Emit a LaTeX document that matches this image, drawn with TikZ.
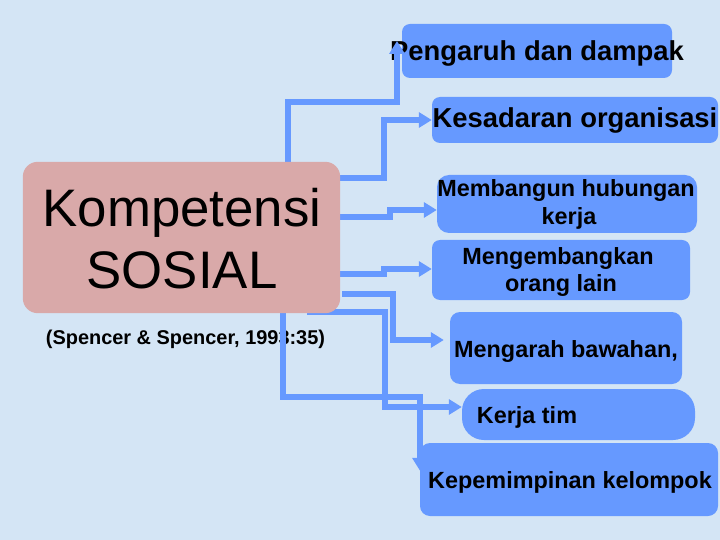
\documentclass[tikz,border=0pt]{standalone}
\usepackage{fontspec}
\setmainfont{Liberation Sans}
\usetikzlibrary{arrows.meta}
\definecolor{bg}{HTML}{D4E5F5}
\definecolor{bx}{HTML}{6699FF}
\definecolor{pk}{HTML}{D9A9A9}
\begin{document}
\begin{tikzpicture}[x=1bp,y=-1bp,
  box/.style={fill=bx, inner sep=0pt},
  conn/.style={draw=bx, line width=6.5bp},
  arr/.style={conn, -{Triangle[width=15bp,length=13bp]}},
  lbl/.style={font=\fontsize{23.5}{28}\bfseries\selectfont, text=black, inner sep=0pt, anchor=base},
  big/.style={font=\fontsize{27.5}{32}\bfseries\selectfont, text=black, inner sep=0pt, anchor=base},
  huge/.style={font=\fontsize{53}{61}\selectfont, text=black, inner sep=0pt, anchor=base},
]
\fill[bg] (0,0) rectangle (720,540);
\useasboundingbox (0,0) rectangle (720,540);

% blue boxes
\node[box, rounded corners=8bp, minimum width=270bp, minimum height=54bp] (p1) at (537,51) {};
\node[box, rounded corners=8bp, minimum width=286bp, minimum height=46bp] (p2) at (575,120) {};
\node[box, rounded corners=12bp, minimum width=260bp, minimum height=58bp] (p3) at (567,204) {};
\node[box, rounded corners=8bp, minimum width=258bp, minimum height=60bp] (p4) at (561,270) {};
\node[box, rounded corners=10bp, minimum width=232bp, minimum height=72bp] (p5) at (566,348) {};
\node[box, rounded corners=22bp, minimum width=233bp, minimum height=51bp] (p6) at (578.5,414.5) {};

\node[big] (t1) at (537,61) {Pengaruh dan dampak};
\node[big] (t2) at (575,128) {Kesadaran organisasi};
\node[lbl] (t3a) at (566,197) {Membangun hubungan};
\node[lbl] (t3b) at (569,225) {kerja};
\node[lbl] (t4a) at (558,265) {Mengembangkan};
\node[lbl] (t4b) at (561,291) {orang lain};
\node[lbl] (t5) at (566,357) {Mengarah bawahan,};
\node[lbl] (t6) at (527,423) {Kerja tim};

\node[font=\fontsize{20}{24}\bfseries\selectfont, inner sep=0pt, anchor=base] (cite) at (185.5,344) {(Spencer \& Spencer, 1993:35)};

% pink box (named early for connectors, drawn later)
\path (181.5,237.5) node[minimum width=317bp, minimum height=151bp, inner sep=0pt] (ks) {};

% connectors
\coordinate (a1) at (288,102);
\coordinate (a2) at (397,102);
\draw[arr] (ks.north -| a1) -- (a1) -- (a2) -- (a2 |- t1.north);

\coordinate (b1) at (384,178);
\draw[arr] (ks.east |- b1) -- (b1) |- (p2.west);

\coordinate (c1) at (390,217);
\coordinate (c2) at (390,210);
\draw[arr] (ks.east |- c1) -- (c1) -- (c2) -- (c2 -| p3.west);

\coordinate (d1) at (384,274);
\coordinate (d2) at (384,269);
\draw[arr] (ks.east |- d1) -- (d1) -- (d2) -- (d2 -| p4.west);

\coordinate (e0) at (342,294);
\coordinate (e1) at (393,294);
\coordinate (e2) at (393,340);
\draw[arr, shorten >=6bp] (e0) -- (e1) -- (e2) -- (e2 -| p5.west);

\coordinate (f0) at (307,312);
\coordinate (f1) at (385,312);
\coordinate (f2) at (385,407);
\draw[arr] (f0) -- (f1) -- (f2) -- (f2 -| p6.west);

\coordinate (g0) at (283,300);
\coordinate (g1) at (283,397);
\coordinate (g2) at (420,397);
\node[lbl] (t7) at (570,488) {\phantom{Kepemimpinan kelompok}};
\draw[arr] (g0) -- (g1) -- (g2) -- (g2 |- t7.north);

% pink box on top
\fill[pk, rounded corners=15bp] (ks.south west) rectangle (ks.north east);
\node[huge] (k1) at (182,227) {Kompetensi};
\node[huge] (k2) at (182,288) {SOSIAL};

% last box on top of its arrow
\node[box, rounded corners=10bp, minimum width=298bp, minimum height=73bp] (p7) at (569,479.5) {};
\node[lbl] (t7b) at (570,488) {Kepemimpinan kelompok};
\end{tikzpicture}
\end{document}
